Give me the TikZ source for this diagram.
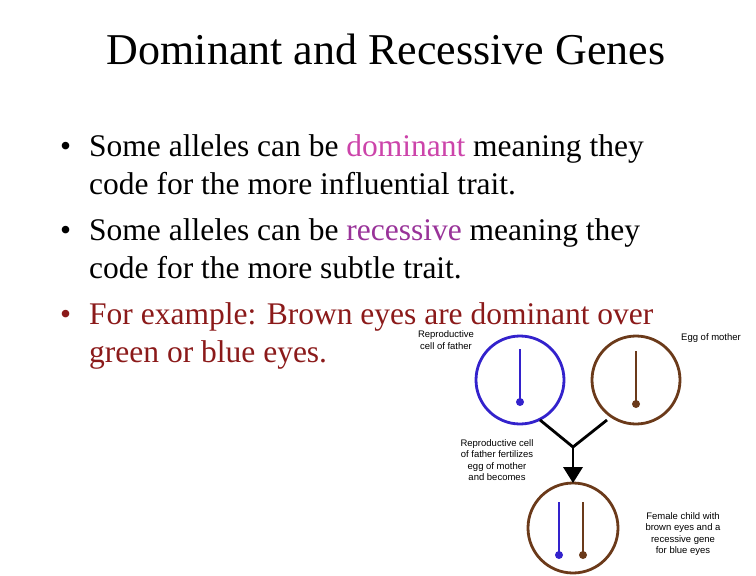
\documentclass[tikz,border=0pt]{standalone}
\usepackage{fontspec}
\setmainfont{Liberation Serif}
\newfontfamily\lsans{Liberation Sans}
\definecolor{dom}{HTML}{CC44AA}
\definecolor{rec}{HTML}{993399}
\definecolor{exred}{HTML}{8B1A1A}
\definecolor{cblue}{HTML}{3322CC}
\definecolor{cbrown}{HTML}{6B3A1A}
\begin{document}
\begin{tikzpicture}[x=1pt,y=-1pt,
  body/.style={font=\fontsize{31.5}{36}\selectfont,anchor=base west,inner sep=0},
  lab/.style={font=\lsans\fontsize{9.5}{11.5}\selectfont,align=center,inner sep=0},
  cell/.style={circle,line width=2.8pt,minimum size=88pt,inner sep=0}]
\useasboundingbox (0,0) rectangle (756,576);
\node[font=\fontsize{44}{50}\selectfont,anchor=base] (title) at (386,64) {Dominant and Recessive Genes};
\node[body] (b1) at (60,156) {•};
\node[body] (t1) at (89,156) {Some alleles can be \textcolor{dom}{dominant} meaning they};
\node[body] (t1b) at (89,194) {code for the more influential trait.};
\node[body] (b2) at (60,240) {•};
\node[body] (t2) at (89,240) {Some alleles can be \textcolor{rec}{recessive} meaning they};
\node[body] (t2b) at (89,278) {code for the more subtle trait.};
\node[body,text=exred] (b3) at (60,324) {•};
\node[body,text=exred] (t3) at (89,324) {For example: Brown eyes are dominant over};
\node[body,text=exred] (t3b) at (89,362) {green or blue eyes.};
% cells
\node[cell,draw=cblue] (father) at (520,380) {};
\node[cell,draw=cbrown] (mother) at (636,380) {};
\node[cell,draw=cbrown,minimum size=90pt] (child) at (573,528) {};
\coordinate (fa) at (520,349); \coordinate (fb) at (520,402);
\draw[cblue,line width=2.5pt] (fa) -- (fb); \fill[cblue] (fb) circle (4);
\coordinate (ma) at (636,351); \coordinate (mb) at (636,404);
\draw[cbrown,line width=2.5pt] (ma) -- (mb); \fill[cbrown] (mb) circle (4);
\coordinate (ca) at (559,502); \coordinate (cb) at (559,555);
\draw[cblue,line width=2.5pt] (ca) -- (cb); \fill[cblue] (cb) circle (4);
\coordinate (da) at (583,502); \coordinate (db) at (583,555);
\draw[cbrown,line width=2.5pt] (da) -- (db); \fill[cbrown] (db) circle (4);
% Y connector
\coordinate (yl) at (540,420); \coordinate (yr) at (607,420); \coordinate (yj) at (573,447); \coordinate (yt) at (573,483);
\draw[line width=2.8pt] (yl) -- (yj) -- (yr);
\draw[line width=2.8pt] (yj) -- (573,470);
\fill (563,467) -- (583,467) -- (yt) -- cycle;
\node[lab] (l1) at (446,340) {Reproductive\\cell of father};
\node[lab,anchor=west] (l2) at (681,338) {Egg of mother};
\node[lab] (l3) at (497,460) {Reproductive cell\\of father fertilizes\\egg of mother\\and becomes};
\node[lab] (l4) at (683,534) {Female child with\\brown eyes and a\\recessive gene\\for blue eyes};
\end{tikzpicture}
\end{document}
